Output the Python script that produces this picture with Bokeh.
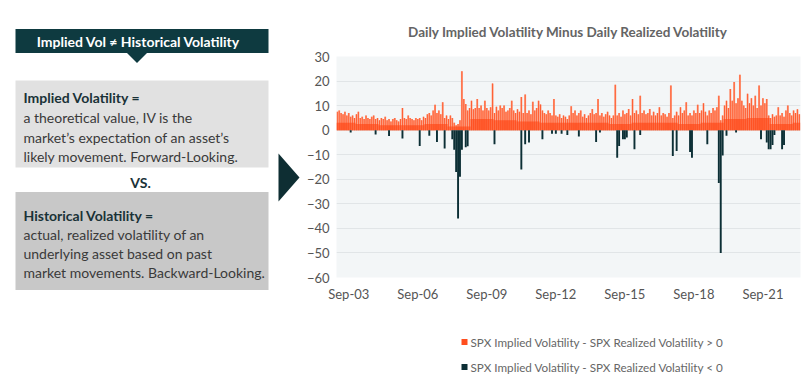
import pandas as pd
from bokeh.plotting import figure
from bokeh.layouts import row, column
from bokeh.models import Range1d, FixedTicker
from bokeh.core.properties import value
from bokeh.embed import file_html
from bokeh.resources import INLINE

# ---------------- data (monthly peaks) ----------------
months = pd.date_range("2003-03-01", periods=242, freq="MS")

pos_spread = [
    7.5, 8, 7, 6.5, 7.5, 6, 7, 5.5, 6, 5,
    6.5, 7.5, 5, 5.5, 4.5, 6, 5, 4.5, 5.5, 6,
    4.5, 5, 4, 5, 4.5, 5.5, 4, 4.5, 3.5, 4.5,
    5, 4, 3.5, 4.5, 9, 5, 4.5, 6, 5, 4.5,
    4, 5, 4.5, 5, 4, 5.5, 5, 6.5, 7, 6,
    8, 10.3, 7, 8, 6.5, 11.4, 5, 6, 4.5, 6,
    5, 3, 2, 2.5, 4, 24, 12.7, 10.7, 8, 9,
    12, 8.5, 9, 12.7, 9, 10, 8, 12, 9, 8,
    9.3, 19, 7, 9.5, 8, 10, 9, 10, 7.5, 8,
    9, 12, 8, 7, 8.5, 7.5, 13.5, 7, 14.5, 7,
    8, 6.5, 11.6, 8, 9, 12, 10.5, 8, 7, 6.5,
    8, 7, 6, 12.7, 6, 5.5, 6.5, 5, 6, 5.5,
    4.5, 6, 9.7, 7, 8, 6, 7, 8, 5.5, 6.5,
    5, 6, 7, 8.6, 6.5, 7, 12.7, 6, 7, 5.5,
    6.5, 7.5, 6, 5, 6, 18.5, 6, 7, 5.5, 8,
    6.5, 7, 8.6, 6, 12.7, 7, 8, 6.5, 14, 7,
    8, 6.5, 7, 8.6, 6, 7.5, 6, 7, 9.3, 6,
    7, 6.5, 5.5, 7, 18.2, 5, 6, 7.5, 6, 9.3,
    7, 8, 11.4, 6, 7, 6, 8, 7, 10.3, 7,
    8, 11, 7.5, 6, 8, 7, 9, 8, 9.3, 14,
    4, 6, 10, 12, 9, 16.8, 12, 19.6, 11, 13,
    22.6, 12, 10, 9, 14.8, 11, 13, 10, 14, 9,
    18.2, 10, 13, 11, 12.7, 6, 5, 6.5, 5.5, 6,
    9.3, 6, 7, 5.5, 8, 10, 7, 6, 8, 7,
    8.5, 6.5,
]

neg_spread = [
    0, 0, 0, 0, 0, 0, 0, -1, 0, 0,
    0, 0, 0, 0, 0, 0, 0, 0, 0, 0,
    -1.8, 0, 0, 0, 0, 0, 0, -2.4, 0, 0,
    0, 0, 0, 0, -3.4, 0, 0, 0, 0, 0,
    0, 0, 0, -6.4, 0, 0, 0, 0, -2.3, 0,
    0, 0, -4.8, 0, 0, 0, -7.5, 0, 0, 0,
    -3.7, -8, -17, -36, -19, -8, 0, -7, -6.5, 0,
    0, 0, 0, 0, 0, 0, 0, 0, 0, 0,
    0, 0, -5.7, 0, 0, 0, 0, 0, 0, 0,
    0, 0, 0, 0, 0, 0, -16, 0, -5.7, 0,
    -5, 0, 0, 0, 0, 0, 0, -3.7, 0, 0,
    0, 0, -1.5, 0, -1.5, 0, 0, -1.5, 0, 0,
    -2, 0, 0, 0, 0, 0, -2.6, 0, 0, 0,
    0, 0, 0, 0, 0, -4.8, 0, -1, 0, 0,
    0, 0, 0, 0, 0, 0, -11.2, -6.4, 0, -3.7,
    -3.7, -3, 0, 0, 0, -7.8, 0, 0, -2, 0,
    0, 0, 0, 0, 0, 0, 0, 0, 0, 0,
    0, 0, 0, 0, 0, -10.5, 0, -8.5, 0, 0,
    0, 0, 0, 0, -8.9, -11.2, 0, 0, 0, 0,
    0, 0, 0, -5.7, 0, 0, 0, 0, 0, -21.5,
    -50, -10.3, 0, -2.3, 0, 0, 0, 0, -1, 0,
    0, 0, 0, 0, 0, 0, 0, 0, 0, 0,
    0, -3.7, 0, 0, -5, -7.8, -7.8, -6, -2, 0,
    0, 0, -7.8, -6, 0, 0, 0, 0, 0, 0,
    0, 0,
]

# typical (dense) daily level of the positive spread, per calendar year
band_years = [2003, 2004, 2005, 2006, 2007, 2008, 2009, 2010, 2011, 2012, 2013,
              2014, 2015, 2016, 2017, 2018, 2019, 2020, 2021, 2022, 2023]
band_level = [3, 2.5, 2, 2, 2.5, 1.5, 4.5, 4, 3.5, 3, 3,
              3, 2.5, 3, 3, 2.5, 3, 4.5, 5, 2.5, 3]

x_tick_labels = ["Sep-03", "Sep-06", "Sep-09", "Sep-12", "Sep-15", "Sep-18", "Sep-21"]
y_ticks = [-60, -50, -40, -30, -20, -10, 0, 10, 20, 30]

title_text = "Daily Implied Volatility Minus Daily Realized Volatility"
legend_labels = ["SPX Implied Volatility - SPX Realized Volatility > 0",
                 "SPX Implied Volatility - SPX Realized Volatility < 0"]
header_text = "Implied Vol \u2260 Historical Volatility"
box1_lines = ["Implied Volatility =", "a theoretical value, IV is the",
              "market\u2019s expectation of an asset\u2019s", "likely movement. Forward-Looking."]
box2_lines = ["Historical Volatility =", "actual, realized volatility of an",
              "underlying asset based on past", "market movements. Backward-Looking."]

FONT = value("Lato")
ORANGE = "#FF4E1E"
DARK = "#0C2F35"
TEAL = "#0E3A40"

month_labels = [d.strftime("%b-%y") for d in months]
tick_pos = [month_labels.index(t) for t in x_tick_labels]
idx = list(range(len(months)))
band_lookup = dict(zip(band_years, band_level))
band = [band_lookup[d.year] for d in months]

# ---------------- left panel (pixel-like coordinates) ----------------
left = figure(width=300, height=318, x_range=Range1d(0, 300), y_range=Range1d(318, 0),
              x_axis_type=None, y_axis_type=None, output_backend="svg",
              toolbar_location=None, min_border=0)
left.frame_align = False
left.outline_line_color = None
left.grid.visible = False
left.background_fill_color = "white"

left.quad(left=[15], right=[268], top=[28.5], bottom=[52.5], fill_color=TEAL, line_color=None)
left.patch([126, 147, 136.5], [52, 52, 62.5], fill_color=TEAL, line_color=None)
left.quad(left=[15], right=[268], top=[80], bottom=[167], fill_color="#E1E1E1", line_color=None)
left.quad(left=[15], right=[268], top=[191.5], bottom=[289.5], fill_color="#C8C8C8", line_color=None)
left.patch([278, 278, 299], [153, 201, 177], fill_color="#0E2E33", line_color=None)

left.text(x=[138], y=[40.5], text=[header_text], text_font=FONT, text_font_size="14px",
          text_font_style="bold", text_color="white", text_align="center", text_baseline="middle")

y1 = [97, 117, 136.5, 155.5]
left.text(x=[23], y=[y1[0]], text=[box1_lines[0]], text_font=FONT, text_font_size="14px",
          text_font_style="bold", text_color="#1A3237", text_baseline="middle")
left.text(x=[23] * 3, y=y1[1:], text=box1_lines[1:], text_font=FONT, text_font_size="14px",
          text_color="#3A3A3A", text_baseline="middle")
left.text(x=[140], y=[181.5], text=["VS."], text_font=FONT, text_font_size="14px",
          text_font_style="bold", text_color="#1A3237", text_align="center", text_baseline="middle")
y2 = [215, 234, 253, 272]
left.text(x=[23], y=[y2[0]], text=[box2_lines[0]], text_font=FONT, text_font_size="14px",
          text_font_style="bold", text_color="#1A3237", text_baseline="middle")
left.text(x=[23] * 3, y=y2[1:], text=box2_lines[1:], text_font=FONT, text_font_size="14px",
          text_color="#3A3A3A", text_baseline="middle")

# ---------------- chart ----------------
p = figure(width=503, height=318, x_range=Range1d(-0.4, 241.6), y_range=Range1d(-60, 30),
           output_backend="svg", toolbar_location=None,
           min_border_left=36, min_border_right=3, min_border_top=56, min_border_bottom=41)
p.frame_align = False
p.title.text = title_text
p.title.align = "center"
p.title.text_font = "Lato"
p.title.text_font_size = "13.5px"
p.title.text_font_style = "bold"
p.title.text_color = "#646464"
p.title.standoff = 33

p.background_fill_color = "#F3F6F7"
p.border_fill_color = "white"
p.outline_line_color = None
p.xgrid.visible = False
p.ygrid.grid_line_color = "#E1E5E7"

p.yaxis.ticker = FixedTicker(ticks=y_ticks)
p.xaxis.ticker = FixedTicker(ticks=tick_pos)
p.xaxis.major_label_overrides = {t: l for t, l in zip(tick_pos, x_tick_labels)}
for ax in (p.xaxis[0], p.yaxis[0]):
    ax.axis_line_color = None
    ax.major_tick_line_color = None
    ax.minor_tick_line_color = None
    ax.major_tick_in = 0
    ax.major_tick_out = 0
    ax.major_label_text_font = "Lato"
    ax.major_label_text_font_size = "13px"
    ax.major_label_text_color = "#555555"
p.yaxis.major_label_standoff = 7
p.xaxis.major_label_standoff = 8

# light spikes (monthly peaks), a thin stronger core, then the dense band near zero
p.vbar(x=idx, width=1.0, top=pos_spread, bottom=0, fill_color="#FF8C69", fill_alpha=0.85, line_color=None)
p.vbar(x=idx, width=0.5, top=pos_spread, bottom=0, fill_color="#FF5C30", line_color=None)
p.vbar(x=idx, width=1.0, top=band, bottom=0, fill_color=ORANGE, fill_alpha=0.8, line_color=None)
p.vbar(x=idx, width=1.0, top=0, bottom=neg_spread, fill_color=DARK, line_color=None)

# ---------------- legend (full-width strip under the row) ----------------
leg = figure(width=803, height=66, x_range=Range1d(0, 803), y_range=Range1d(384, 318),
             x_axis_type=None, y_axis_type=None, output_backend="svg",
             toolbar_location=None, min_border=0)
leg.frame_align = False
leg.outline_line_color = None
leg.grid.visible = False
ly = [341.5, 366.5]
leg.scatter(x=[464, 464], y=ly, marker="square", size=6, fill_color=[ORANGE, DARK], line_color=None)
leg.text(x=[470, 470], y=ly, text=legend_labels, text_font=FONT, text_font_size="11.7px",
         text_color="#666666", text_baseline="middle")

layout = column(row(left, p, spacing=0), leg, spacing=0)
open("out.html", "w").write(file_html(layout, INLINE))
